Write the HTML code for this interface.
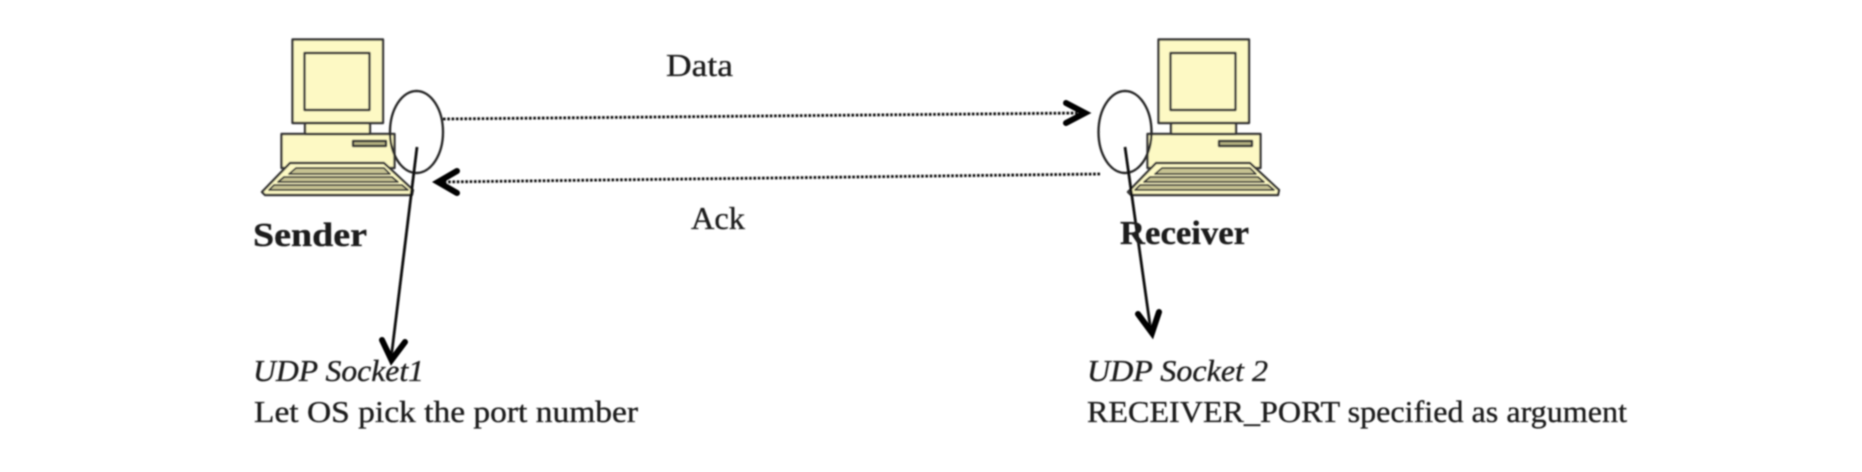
<!DOCTYPE html>
<html>
<head>
<meta charset="utf-8">
<style>
html,body{margin:0;padding:0;background:#fff;width:1862px;height:472px;overflow:hidden}
svg{display:block}
text{font-family:"Liberation Serif",serif;fill:#1c1c1c;stroke:#1c1c1c;stroke-width:.35px}
</style>
</head>
<body>
<svg width="1862" height="472" viewBox="0 0 1862 472" xmlns="http://www.w3.org/2000/svg">
<defs>
<filter id="b" x="-5%" y="-5%" width="110%" height="110%"><feGaussianBlur stdDeviation="0.75"/></filter>
<g id="pc" stroke="#383838" stroke-width="2.400" fill="#fdf9c4" stroke-linejoin="round">
  <rect x="281.500" y="134" width="113" height="34"/>
  <rect x="353" y="141" width="33" height="5" fill="#b8b482"/>
  <rect x="305" y="123" width="65" height="11"/>
  <rect x="292.500" y="39.500" width="90.500" height="83.500"/>
  <rect x="304.500" y="53" width="65" height="57"/>
  <path d="M290 163H384L413 190L412 195H265L262 192Z"/>
  <path d="M296 168L289 174H390L384 168Z" fill="#c6c292" stroke-width="1.800"/>
  <path d="M284 177L278 182H398L392 177Z" fill="#c6c292" stroke-width="1.800"/>
  <path d="M274 185L269 190H408L402 185Z" fill="#c6c292" stroke-width="1.800"/>
</g>
</defs>
<g filter="url(#b)">
  <use href="#pc"/>
  <use href="#pc" transform="translate(866 0)"/>
  <g fill="none" stroke="#2a2a2a" stroke-width="2.400">
    <ellipse cx="416.500" cy="132" rx="26.500" ry="41"/>
    <ellipse cx="1125" cy="132" rx="26.500" ry="41"/>
  </g>
  <g fill="none" stroke="#111" stroke-width="2.800" stroke-dasharray="2.600 1.700">
    <path d="M443 119L1082 113"/>
    <path d="M1100 174L441 182"/>
  </g>
  <g fill="none" stroke="#111" stroke-width="2.800">
    <path d="M417 147L391 359"/>
    <path d="M1125 147L1151 332"/>
  </g>
  <g fill="none" stroke="#000" stroke-width="6" stroke-linecap="round" stroke-linejoin="miter" stroke-miterlimit="6">
    <path d="M1066 103L1085 113L1066 123"/>
    <path d="M457 171L438 182L457 193"/>
    <path d="M382 340L391.500 360L405 342"/>
    <path d="M1138 314L1152 333L1159 312"/>
  </g>
  <text x="666" y="76" font-size="32" textLength="67" lengthAdjust="spacingAndGlyphs">Data</text>
  <text x="691" y="229" font-size="32" textLength="54" lengthAdjust="spacingAndGlyphs">Ack</text>
  <text x="253" y="246" font-size="34" font-weight="bold" textLength="114" lengthAdjust="spacingAndGlyphs">Sender</text>
  <text x="1120" y="244" font-size="34" font-weight="bold" textLength="129" lengthAdjust="spacingAndGlyphs">Receiver</text>
  <text x="253" y="381" font-size="31" font-style="italic" textLength="171" lengthAdjust="spacingAndGlyphs">UDP Socket1</text>
  <text x="254" y="422" font-size="31" textLength="384" lengthAdjust="spacingAndGlyphs">Let OS pick the port number</text>
  <text x="1087" y="381" font-size="31" font-style="italic" textLength="181" lengthAdjust="spacingAndGlyphs">UDP Socket 2</text>
  <text x="1087" y="422" font-size="31" textLength="540" lengthAdjust="spacingAndGlyphs">RECEIVER_PORT specified as argument</text>
</g>
</svg>
</body>
</html>
